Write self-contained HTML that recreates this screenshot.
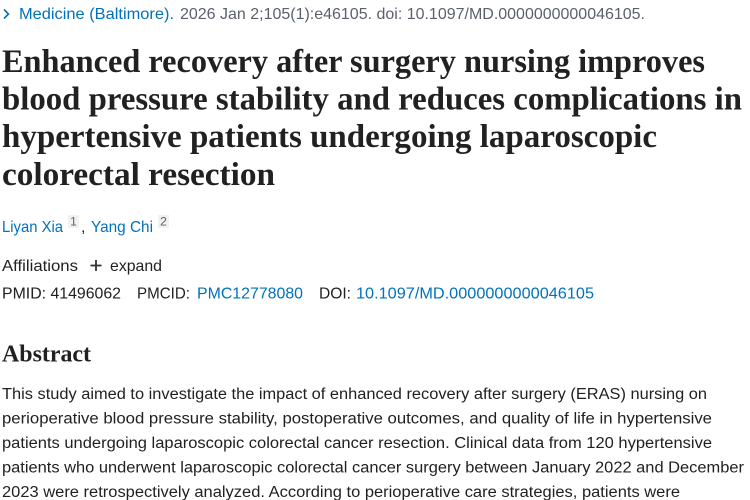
<!DOCTYPE html>
<html>
<head>
<meta charset="utf-8">
<style>
  html,body{margin:0;padding:0;background:#fff;}
  svg{display:block;}
  .sans{font-family:"Liberation Sans","DejaVu Sans",sans-serif;}
  .serif{font-family:"Liberation Serif","DejaVu Serif",serif;}
</style>
</head>
<body>
<svg width="750" height="500" viewBox="0 0 750 500" xmlns="http://www.w3.org/2000/svg">
  <rect width="750" height="500" fill="#ffffff"/>

  <!-- Journal line -->
  <polyline points="4,9.5 8.5,14 4,18.5" fill="none" stroke="#0071bc" stroke-width="1.6"/>
  <text class="sans" x="19" y="19" font-size="16" fill="#0071bc" textLength="155" lengthAdjust="spacingAndGlyphs">Medicine (Baltimore).</text>
  <text class="sans" x="180" y="19" font-size="16" fill="#5b616b" textLength="465" lengthAdjust="spacingAndGlyphs">2026 Jan 2;105(1):e46105. doi: 10.1097/MD.0000000000046105.</text>

  <!-- Title -->
  <g class="serif" font-size="33" font-weight="bold" fill="#212121">
    <text x="2" y="72" textLength="703" lengthAdjust="spacingAndGlyphs">Enhanced recovery after surgery nursing improves</text>
    <text x="2" y="109.5" textLength="740" lengthAdjust="spacingAndGlyphs">blood pressure stability and reduces complications in</text>
    <text x="2" y="147" textLength="655" lengthAdjust="spacingAndGlyphs">hypertensive patients undergoing laparoscopic</text>
    <text x="2" y="185" textLength="273" lengthAdjust="spacingAndGlyphs">colorectal resection</text>
  </g>

  <!-- Authors -->
  <text class="sans" x="2" y="232" font-size="16" fill="#0071bc" textLength="61" lengthAdjust="spacingAndGlyphs">Liyan Xia</text>
  <rect x="68" y="215" width="11" height="13" fill="#f1f1f1"/>
  <text class="sans" x="73.5" y="225.5" font-size="12" fill="#5b616b" text-anchor="middle">1</text>
  <text class="sans" x="81" y="232" font-size="16" fill="#212121">,</text>
  <text class="sans" x="91" y="232" font-size="16" fill="#0071bc" textLength="62" lengthAdjust="spacingAndGlyphs">Yang Chi</text>
  <rect x="158" y="215" width="11" height="13" fill="#f1f1f1"/>
  <text class="sans" x="163.5" y="225.5" font-size="12" fill="#5b616b" text-anchor="middle">2</text>

  <!-- Affiliations -->
  <text class="sans" x="2" y="271" font-size="16" fill="#212121" textLength="76" lengthAdjust="spacingAndGlyphs">Affiliations</text>
  <line x1="90.5" y1="265.5" x2="101.5" y2="265.5" stroke="#333" stroke-width="1.8"/>
  <line x1="96" y1="260" x2="96" y2="271" stroke="#333" stroke-width="1.8"/>
  <text class="sans" x="110" y="271" font-size="16" fill="#212121" textLength="52" lengthAdjust="spacingAndGlyphs">expand</text>

  <!-- IDs -->
  <text class="sans" x="2" y="298.5" font-size="16" fill="#212121" textLength="119" lengthAdjust="spacingAndGlyphs">PMID: 41496062</text>
  <text class="sans" x="137" y="298.5" font-size="16" fill="#212121" textLength="53" lengthAdjust="spacingAndGlyphs">PMCID:</text>
  <text class="sans" x="197" y="298.5" font-size="16" fill="#0071bc" textLength="106" lengthAdjust="spacingAndGlyphs">PMC12778080</text>
  <text class="sans" x="319" y="298.5" font-size="16" fill="#212121" textLength="32" lengthAdjust="spacingAndGlyphs">DOI:</text>
  <text class="sans" x="356" y="298.5" font-size="16" fill="#0071bc" textLength="238" lengthAdjust="spacingAndGlyphs">10.1097/MD.0000000000046105</text>

  <!-- Abstract heading -->
  <text class="serif" x="2" y="361.5" font-size="24" font-weight="bold" fill="#212121" textLength="89" lengthAdjust="spacingAndGlyphs">Abstract</text>

  <!-- Abstract body -->
  <g class="sans" font-size="15.5" fill="#212121">
    <text x="2" y="399" textLength="705" lengthAdjust="spacingAndGlyphs">This study aimed to investigate the impact of enhanced recovery after surgery (ERAS) nursing on</text>
    <text x="2" y="423.5" textLength="710" lengthAdjust="spacingAndGlyphs">perioperative blood pressure stability, postoperative outcomes, and quality of life in hypertensive</text>
    <text x="2" y="448" textLength="710" lengthAdjust="spacingAndGlyphs">patients undergoing laparoscopic colorectal cancer resection. Clinical data from 120 hypertensive</text>
    <text x="2" y="472.5" textLength="742" lengthAdjust="spacingAndGlyphs">patients who underwent laparoscopic colorectal cancer surgery between January 2022 and December</text>
    <text x="2" y="497" textLength="678" lengthAdjust="spacingAndGlyphs">2023 were retrospectively analyzed. According to perioperative care strategies, patients were</text>
  </g>
</svg>
</body>
</html>
